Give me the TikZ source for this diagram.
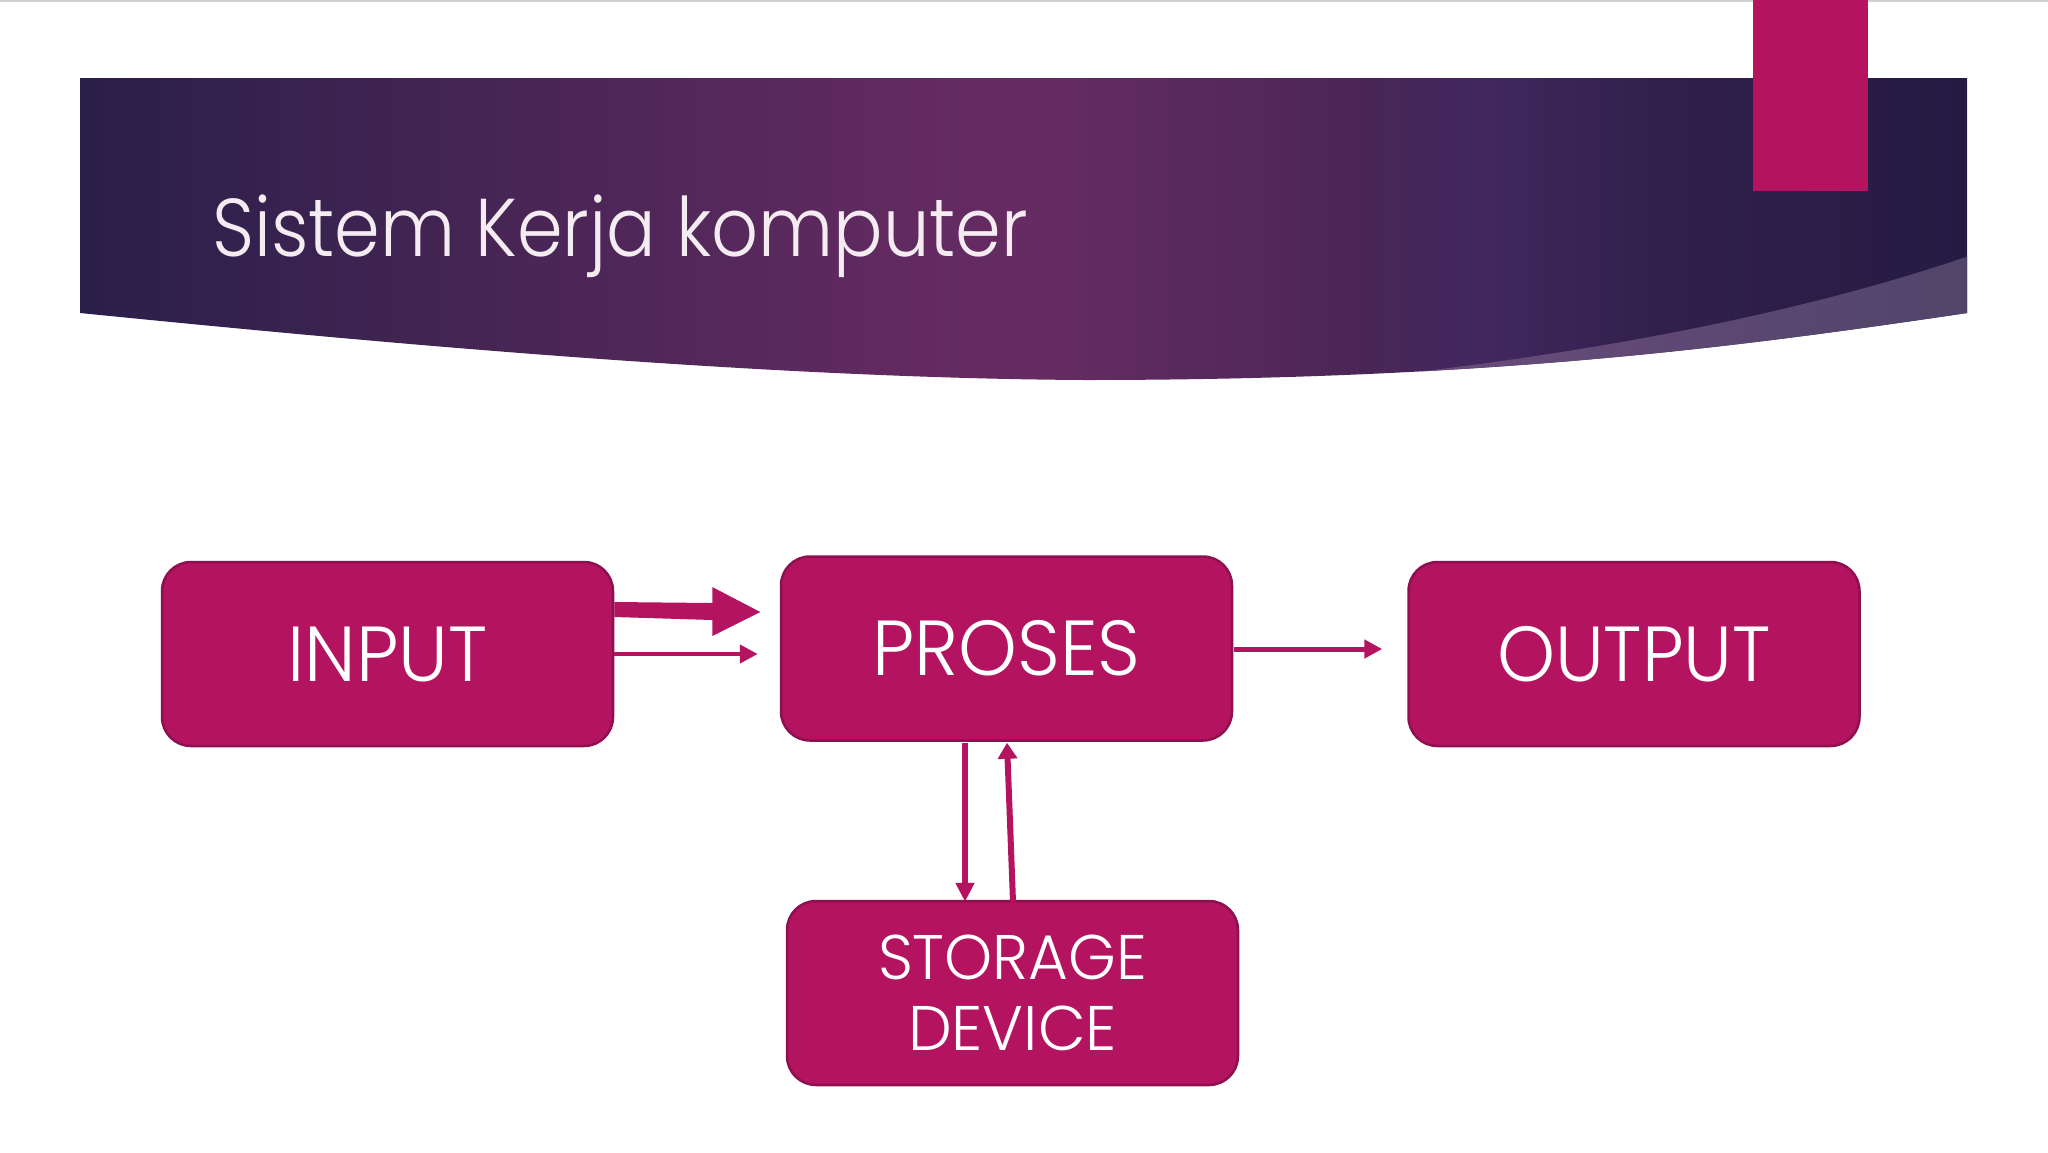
\documentclass[tikz,border=0pt]{standalone}
\usepackage{fontspec}
\IfFontExistsTF{Poppins Light}{\setmainfont{Poppins Light}}{\setmainfont{Poppins}}
\usetikzlibrary{arrows.meta,calc}
\definecolor{mag}{HTML}{B3135F}
\definecolor{magdark}{HTML}{8E1050}
\definecolor{titlecol}{HTML}{F4ECF1}
\definecolor{b0}{HTML}{2A1E4A}
\definecolor{b1}{HTML}{402452}
\definecolor{b2}{HTML}{612A60}
\definecolor{b3}{HTML}{652C62}
\definecolor{b4}{HTML}{4B2656}
\definecolor{b5}{HTML}{41285F}
\definecolor{b6}{HTML}{32204C}
\definecolor{b7}{HTML}{241B43}
\definecolor{sl1}{HTML}{6A4C7C}
\definecolor{sl2}{HTML}{4F4468}
\pgfdeclarehorizontalshading{bannershade}{100bp}{color(0bp)=(b0); color(25bp)=(b0); color(33.5bp)=(b1); color(46.7bp)=(b2); color(50.7bp)=(b3); color(58.7bp)=(b4); color(62.1bp)=(b5); color(66.6bp)=(b6); color(75bp)=(b7); color(100bp)=(b7)}
\newcommand\boxlbl[2]{\resizebox{#1pt}{\height}{#2}}
\tikzset{
  box/.style={draw=magdark, fill=mag, line width=2.5pt, rounded corners=29pt,
    minimum width=451pt, minimum height=184pt, inner sep=0pt, text=white,
    font=\fontsize{78}{94}\selectfont},
  conn/.style={draw=mag, line width=5pt},
}
\begin{document}
\begin{tikzpicture}[x=1pt,y=-1pt]
\useasboundingbox (0,0) rectangle (2048,1152);
\fill[white] (0,0) rectangle (2048,1152);
\fill[black!18] (0,0) rectangle (2048,2);
% banner
\shade[shading=bannershade] (80,78) -- (1967,78) -- (1967,313) .. controls (1750,345) and (1500,380) .. (1084,380) .. controls (750,378) and (350,340) .. (80,313) -- cycle;
\begin{scope}
\clip (80,78) -- (1967,78) -- (1967,313) .. controls (1750,345) and (1500,380) .. (1084,380) .. controls (750,378) and (350,340) .. (80,313) -- cycle;
\shade[left color=sl1, right color=sl2] (1400,374) .. controls (1650,345) and (1850,300) .. (2000,245) -- (2000,420) -- (1400,420) -- cycle;
\end{scope}
\fill[mag] (1753,0) rectangle (1868,191);
\node[anchor=base west, text=titlecol, inner sep=0pt] (title) at (212,256)
  {\resizebox{816pt}{\height}{\fontsize{82}{100}\selectfont Sistem Kerja komputer}};
% boxes
\node[box] (in) at (387.5,654) {\raisebox{-4pt}{\boxlbl{200}{INPUT}}};
\node[box] (pr) at (1006.5,648.5) {\raisebox{-4pt}{\boxlbl{268}{PROSES}}};
\node[box] (out) at (1634,654) {\raisebox{-4pt}{\boxlbl{274}{OUTPUT}}};
\node[box, align=center, font=\fontsize{63}{71}\selectfont, text depth=0pt] (st) at (1012.5,993)
  {\boxlbl{269}{STORAGE}\\\boxlbl{209}{DEVICE}};
% block arrow input -> proses
\fill[mag] ($(in.east)+(0,-52)$) -- ($(in.east)+(98,-51)$) -- ($(in.east)+(98,-67)$)
  -- ($(in.east)+(146,-42)$) -- ($(in.east)+(98,-18)$) -- ($(in.east)+(98,-34)$)
  -- ($(in.east)+(0,-37)$) -- cycle;
% thin arrow input -> proses
\draw[conn, line width=4.5pt, -{Triangle[length=18pt,width=18pt]}] (in.east) -- ($(pr.west)+(-22,5.5)$);
% proses -> output
\draw[conn, -{Triangle[length=18pt,width=18pt]}] ($(pr.east)+(1,0.5)$) -- ($(out.west)+(-25,-5)$);
% proses -> storage
\draw[conn, line width=6pt, -{Triangle[length=19pt,width=18pt]}] ($(pr.south)+(-41.5,1)$) -- ($(st.north)+(-47.5,2)$);
% storage -> proses
\draw[conn, line width=6pt, -{Triangle[length=16pt,width=19pt]}] ($(st.north)+(0.5,2)$) -- ($(pr.south)+(0.5,1)$);
\end{tikzpicture}
\end{document}
